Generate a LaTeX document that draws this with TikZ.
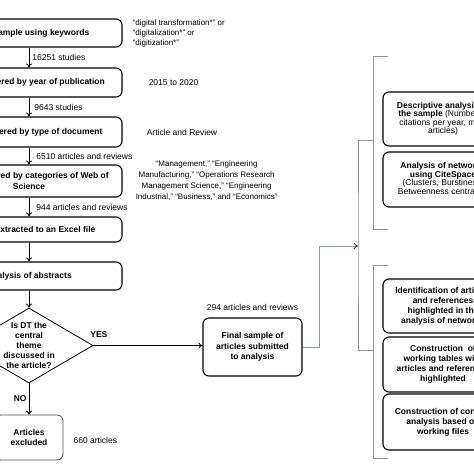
\documentclass[tikz,border=0pt]{standalone}
\usepackage{fontspec}
\setmainfont{Liberation Sans}
\usetikzlibrary{shapes.geometric, arrows.meta, positioning, calc}
\definecolor{linegray}{HTML}{8C96A2}
\newcommand{\fsz}{\fontsize{8.5}{10.5}\selectfont}

\begin{document}
\begin{tikzpicture}[x=1pt, y=-1pt, >={To[length=4pt,width=6pt]},
    stepbox/.style={draw, line width=1.1pt, rounded corners=6pt, align=center, font=\fsz\bfseries, inner sep=1pt},
    leftbox/.style={stepbox, minimum width=186pt},
    rightbox/.style={stepbox, minimum width=120pt, font=\fontsize{8.5}{10}\selectfont\bfseries},
    note/.style={font=\fsz, inner sep=1pt},
    flow/.style={->, line width=0.8pt},
    link/.style={draw=linegray, line width=0.8pt}]

    \useasboundingbox (0,0) rectangle (474,474);
    \clip (0,0) rectangle (474,474);

    % left column
    \node[leftbox, minimum height=28pt] (srch) at (29,33) {Initial sample using keywords};
    \node[leftbox, minimum height=29pt] (year) at (29,82.5) {Studies filtered by year of publication};
    \node[leftbox, minimum height=30pt] (type) at (29,132) {Studies filtered by type of document};
    \node[leftbox, minimum height=32pt] (wos) at (29,181) {Studies filtered by categories of Web of\\Science};
    \node[leftbox, minimum height=25pt] (xls) at (29,229.5) {Studies extracted to an Excel file};
    \node[leftbox, minimum height=28pt] (abs) at (29,276) {Analysis of abstracts};

    \node[draw, diamond, minimum width=128pt, minimum height=75pt, inner sep=0pt, line width=0.8pt] (dt) at (29,345.5) {};
    \node[font=\fontsize{8.5}{10}\selectfont\bfseries, align=center, inner sep=0pt] (dtq) at (dt.center) {Is DT the\\central\\theme\\discussed in\\the article?};

    \node[stepbox, minimum width=68pt, minimum height=45pt, line width=0.8pt, draw=black!70] (excl) at (29,437.5) {Articles\\excluded};
    \node[stepbox, minimum width=99pt, minimum height=58pt] (fin) at (252.5,347) {Final sample of\\articles submitted\\to analysis};

    % notes
    \node[note, right=9pt of srch, align=left, font=\fontsize{8}{10}\selectfont] (kw) {“digital transformation*” or\\“digitalization*” or\\“digitization*”};
    \node[note, right=25pt of year] (yrs) {2015 to 2020};
    \node[note, right=23pt of type] (doc) {Article and Review};
    \node[note, right=12pt of wos, align=center, font=\fontsize{8}{11}\selectfont] (cat) {“Management,” “Engineering\\Manufacturing,” “Operations Research\\Management Science,” “Engineering\\Industrial,” “Business,” and “Economics”};
    \node[note, above=6pt of fin] (n294) {294 articles and reviews};
    \node[note, right=9pt of excl, yshift=-3pt] (n660) {660 articles};

    \draw[flow] (srch) -- node[note, right=2pt] {16251 studies} (year);
    \draw[flow] (year) -- node[note, right=4pt] {9643 studies} (type);
    \draw[flow] (type) -- node[note, right=6pt] {6510 articles and reviews} (wos);
    \draw[flow] (wos) -- node[note, right=6pt] {944 articles and reviews} (xls);
    \draw[flow] (xls) -- (abs);
    \draw[flow] (abs) -- (dt.north);
    \draw[flow] (dt.east) -- node[note, font=\fsz\bfseries, above=7pt, pos=.05] {YES} (dt.east -| fin.west);
    \draw[flow] (dt.south) -- node[note, font=\fsz\bfseries, left=1pt] {NO} (excl);

    % right column
    \node[rightbox, minimum height=54pt, font=\fontsize{8.5}{8.5}\selectfont\bfseries] (desc) at (443,119) {Descriptive analysis of\\the sample \mdseries(Number of\\\mdseries citations per year, most\\\mdseries articles)};
    \node[rightbox, minimum height=55pt, font=\fontsize{8.5}{8.5}\selectfont\bfseries] (net) at (443,179.5) {Analysis of networks\\using CiteSpace\\\mdseries(Clusters, Burstiness,\\\mdseries Betweenness centrality)};
    \node[rightbox, minimum height=54pt] (ident) at (443,306) {Identification of articles\\and references\\highlighted in the\\analysis of networks};
    \node[rightbox, minimum height=55pt] (tabs) at (443,364.5) {Construction \ of\\working tables with\\articles and references\\highlighted};
    \node[rightbox, minimum height=56pt] (cont) at (443,422) {Construction of content\\analysis based on\\working files};

    \coordinate (tr) at (319,246);
    \coordinate (sp) at (358,246);
    \coordinate (upmid) at (373,140);
    \coordinate (lowmid) at (373,350);
    \draw[link, -{To[length=4pt,width=6pt,color=black!80]}] (fin.east) -| (tr) -- (sp);
    \draw[link] (upmid) -| (sp) |- (lowmid);

    \draw[link] (388,56) -- (373,56) -- (373,229) -- (388,229);
    \draw[link] (388,265) -- (373,265) -- (373,458) -- (388,458);

\end{tikzpicture}
\end{document}
